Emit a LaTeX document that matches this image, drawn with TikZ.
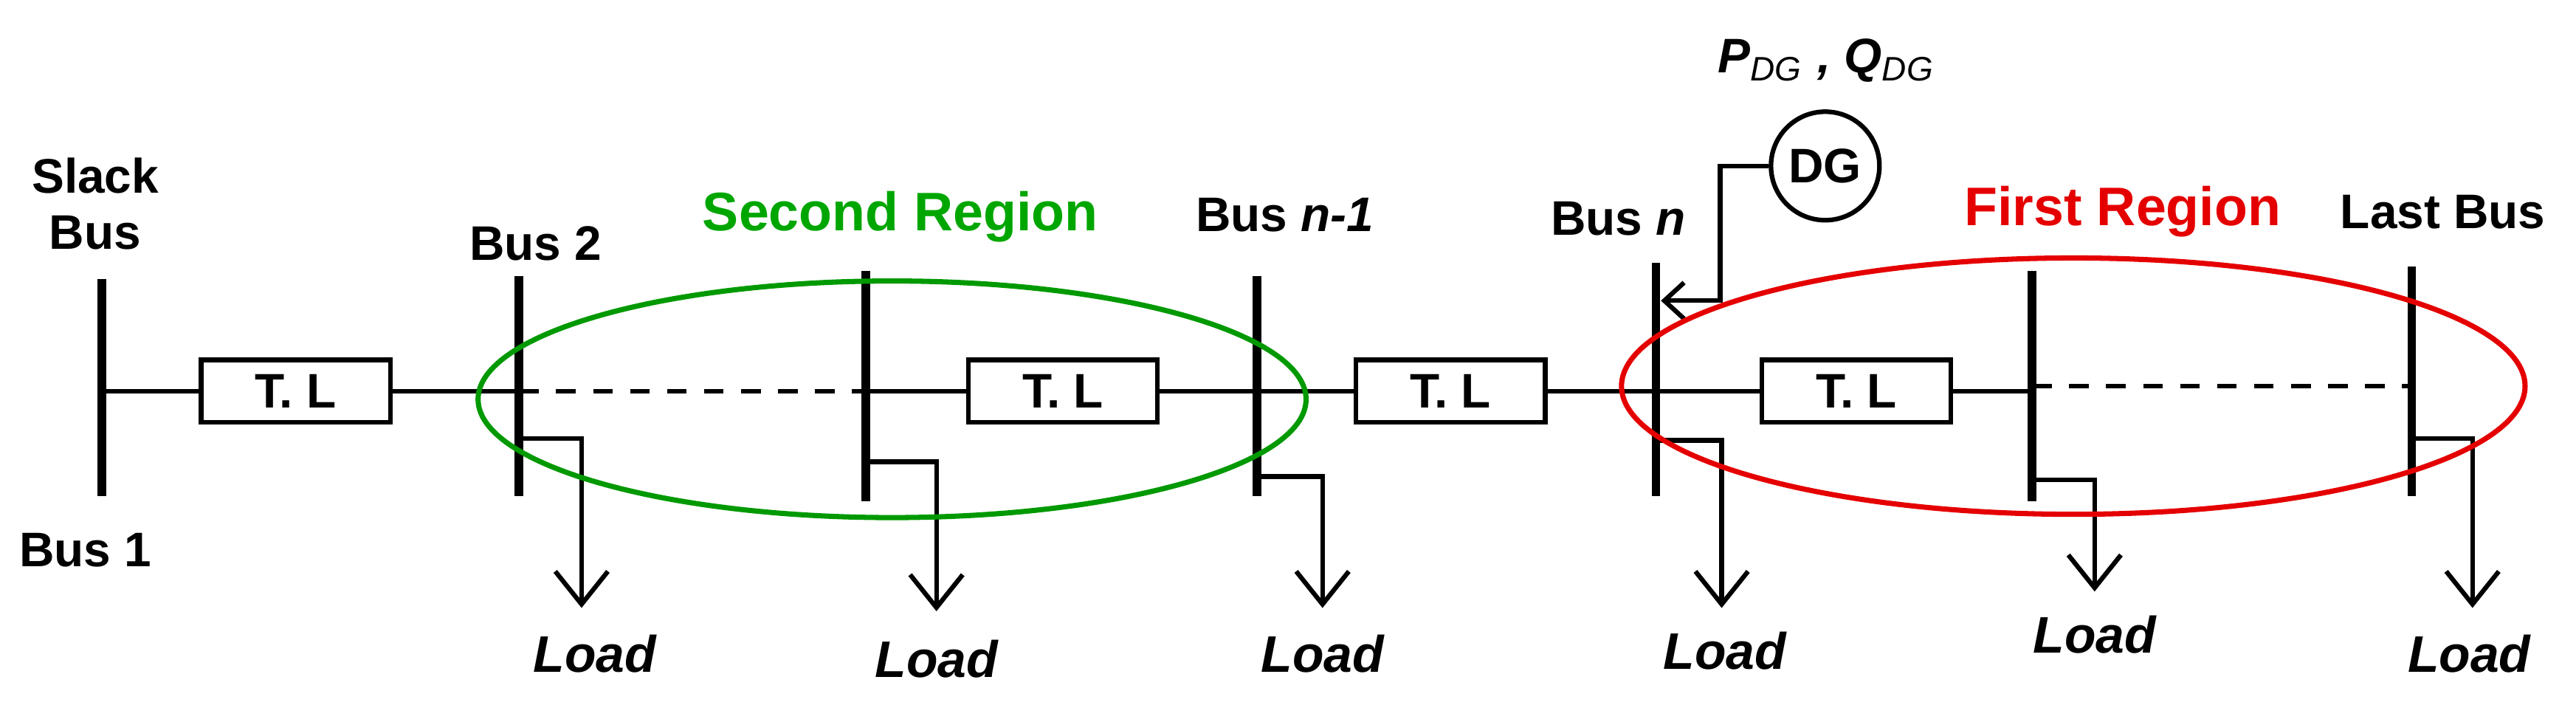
\documentclass[tikz,border=0pt]{standalone}
\usepackage{fontspec}
\setmainfont{Liberation Sans}
\usetikzlibrary{calc}
\usetikzlibrary{shapes,arrows,arrows.meta}

\tikzset{
  lbl/.style={font=\fontsize{8.4}{9.6}\selectfont\bfseries, align=center},
  ilbl/.style={lbl, font=\fontsize{8.9}{10}\selectfont\bfseries\itshape},
  bar/.style={line width=1.5pt},
  wire/.style={line width=0.8pt},
  dsh/.style={wire, dash pattern=on 3.4pt off 3pt},
  tl/.style={draw, line width=0.8pt, minimum width=1.15cm, minimum height=0.38cm, inner sep=0pt, lbl},
  load/.style={wire, -{Straight Barb[length=0.2cm, width=0.32cm, line width=0.8pt]}},
  zone/.style={line width=0.9pt}
}

\begin{document}
\begin{tikzpicture}[x=0.01cm, y=-0.01cm]

\useasboundingbox (0, 0) rectangle (1568, 439.4);

% buses
\coordinate (b1t) at (62, 170);  \coordinate (b1b) at (62, 302);
\coordinate (b2t) at (316, 168); \coordinate (b2b) at (316, 302);
\coordinate (b3t) at (527, 165); \coordinate (b3b) at (527, 305);
\coordinate (b4t) at (765, 168); \coordinate (b4b) at (765, 302);
\coordinate (b5t) at (1008, 160); \coordinate (b5b) at (1008, 302);
\coordinate (b6t) at (1237, 165); \coordinate (b6b) at (1237, 305);
\coordinate (b7t) at (1468, 162); \coordinate (b7b) at (1468, 302);

\draw[bar] (b1t) -- (b1b);
\draw[bar] (b2t) -- (b2b);
\draw[bar] (b3t) -- (b3b);
\draw[bar] (b4t) -- (b4b);
\draw[bar] (b5t) -- (b5b);
\draw[bar] (b6t) -- (b6b);
\draw[bar] (b7t) -- (b7b);

\node[lbl] (slack) at (58, 124) {Slack\\Bus};
\node[lbl] (bus1) at (52, 335) {Bus 1};
\node[lbl] (bus2) at (326, 148) {Bus 2};
\node[lbl] (busn1) at (782, 131) {Bus \textit{n-1}};
\node[lbl] (busn) at (985, 133) {Bus \textit{n}};
\node[lbl] (lastbus) at (1487, 129) {Last Bus};

% lines
\node[tl] (tl1) at (180, 238) {T. L};
\node[tl] (tl2) at (647, 238) {T. L};
\node[tl] (tl3) at (883, 238) {T. L};
\node[tl] (tl4) at (1130, 238) {T. L};

\draw[wire] (62, 238) -- (tl1.west);
\draw[wire] (tl1.east) -- (316, 238);
\draw[dsh] (316, 238) -- (527, 238);
\draw[wire] (527, 238) -- (tl2.west);
\draw[wire] (tl2.east) -- (tl3.west);
\draw[wire] (tl3.east) -- (tl4.west);
\draw[wire] (tl4.east) -- (1237, 238);
\draw[dsh] (1237, 235) -- (1468, 235);

% loads
\node[ilbl] (ld2) at (362, 398) {Load};
\node[ilbl] (ld3) at (570, 401) {Load};
\node[ilbl] (ld4) at (805, 398) {Load};
\node[ilbl] (ld5) at (1050, 396) {Load};
\node[ilbl] (ld6) at (1275, 386) {Load};
\node[ilbl] (ld7) at (1503, 398) {Load};

\draw[load] (316, 267) -| (354, 370);
\draw[load] (527, 281) -| (570, 372);
\draw[load] (765, 290) -| (805, 370);
\draw[load] (1008, 268) -| (1048, 370);
\draw[load] (1237, 292) -| (1275, 360);
\draw[load] (1468, 267) -| (1505, 370);

% DG
\node[draw, circle, line width=0.8pt, minimum size=0.66cm, inner sep=0pt, lbl] (dg) at (1111, 101) {DG};
\node[ilbl, font=\fontsize{8.4}{9.6}\selectfont\bfseries\itshape] (pq) at (1112, 37) {P$_{\mathit{DG}}$ , Q$_{\mathit{DG}}$};
\coordinate (dgin) at (1011, 183);
\draw[wire, -{Straight Barb[length=0.12cm, width=0.22cm, line width=0.8pt]}] (dg.west) -| (1047, 183) -- (dgin);

% regions
\draw[zone, green!60!black] (543, 243) ellipse (252 and 72);
\draw[zone, red!90!black] (1262, 235) ellipse (275 and 78);
\node[lbl, text=green!65!black, font=\fontsize{9.4}{10.4}\selectfont\bfseries] (sr) at (548, 132) {Second Region};
\node[lbl, text=red!90!black, font=\fontsize{9.4}{10.4}\selectfont\bfseries] (fr) at (1292, 129) {First Region};

\end{tikzpicture}
\end{document}
